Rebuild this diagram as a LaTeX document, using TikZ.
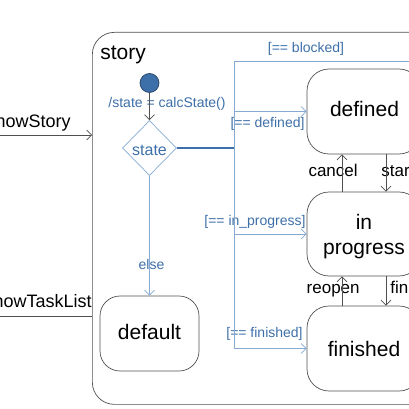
\documentclass[tikz,border=0pt]{standalone}
\usepackage{fontspec}
\setmainfont{Liberation Sans}
\usetikzlibrary{arrows.meta,shapes.geometric,positioning}
\definecolor{guardblue}{HTML}{3D6FA9}
\definecolor{flowblue}{HTML}{86AAD2}
\definecolor{edgegray}{HTML}{505050}
\tikzstyle{block1} = [rectangle, draw=edgegray, rounded corners=22pt, minimum width=114pt, minimum height=85pt, inner sep=0pt]
\tikzstyle{block2} = [diamond, draw=flowblue, minimum width=54pt, minimum height=55pt, inner sep=0pt]
\tikzstyle{block3} = [rectangle, draw=edgegray, rounded corners=22pt, inner sep=0pt]
\tikzstyle{guard} = [text=guardblue, inner sep=0pt, anchor=base, font=\fontsize{14}{16}\selectfont]
\tikzstyle{event} = [inner sep=0pt, anchor=base, font=\fontsize{17}{19}\selectfont]
\tikzstyle{stname} = [inner sep=0pt, anchor=base, font=\fontsize{21}{24}\selectfont]

\begin{document}
\begin{tikzpicture}[x=1pt, y=-1pt, >={Straight Barb[length=5pt,width=10pt]}, line width=0.7pt]
        \useasboundingbox (0,0) rectangle (409,409);
        \clip (0,0) rectangle (409,409);

        \node[block3, anchor=north west, minimum width=440pt, minimum height=372pt] (story) at (92,32) {};
        \node[stname, anchor=base west] (n0) at (100,60) {story};

        \node[circle, draw=guardblue!60!black, fill=guardblue, minimum size=19pt, inner sep=0pt] (init) at (149.5,83) {};
        \node[guard] (g0) at (167,107) {/state = calcState()};
        \node[block2] (dec) at (149.5,148) {};
        \node[guard, font=\fontsize{16}{18}\selectfont] (g1) at (149.5,155) {state};
        \coordinate (j) at (234,148);
        \coordinate (blk) at (430,61);

        \node[block1, minimum height=85pt] (defd) at (364,111.5) {};
        \node[block1, minimum height=84pt] (prog) at (364,234) {};
        \node[block1, minimum height=85pt] (fin) at (364,348.5) {};
        \node[block1, minimum width=99pt, minimum height=75pt, rounded corners=20pt] (dflt) at (149.5,333.5) {};

        \node[stname] (t1) at (364.5,117) {defined};
        \node[stname] (t2) at (364,229) {in};
        \node[stname] (t3) at (364,254) {progress};
        \node[stname] (t4) at (364,356) {finished};
        \node[stname] (t5) at (149.5,339) {default};

        \node[guard] (g2) at (306,53) {[== blocked]};
        \node[guard] (g3) at (267.5,128) {[== defined]};
        \node[guard] (g4) at (255,225) {[== in\_progress]};
        \node[guard] (g5) at (264.5,337) {[== finished]};
        \node[guard] (g6) at (151.5,269) {else};

        \node[event, anchor=base east, font=\fontsize{18}{20}\selectfont] (e1) at (71,127) {showStory};
        \node[event, anchor=base east, font=\fontsize{18}{20}\selectfont] (e2) at (92,307) {showTaskList};
        \node[event, anchor=base east] (e3) at (358,176) {cancel};
        \node[event, anchor=base west] (e4) at (381,176) {start};
        \node[event, anchor=base east] (e5) at (360,293) {reopen};
        \node[event, anchor=base west] (e6) at (390,293) {finish};

        \coordinate (in1) at (-5,135);
        \coordinate (in2) at (-5,316);

        \draw[->, edgegray] (init) -- (dec);
        \draw[guardblue, line width=1.3pt] (dec) -- (j);
        \draw[->, flowblue] (j) |- (blk);
        \draw[->, flowblue] (j) |- (defd);
        \draw[->, flowblue] (j) |- (prog);
        \draw[->, flowblue] (j) |- (fin);
        \draw[->, flowblue] (dec) -- (dflt);
        \draw[->, edgegray] ([xshift=-22pt]prog.north) -- ([xshift=-22pt]defd.south);
        \draw[->, edgegray] ([xshift=22pt]defd.south) -- ([xshift=22pt]prog.north);
        \draw[->, edgegray] ([xshift=-22pt]fin.north) -- ([xshift=-22pt]prog.south);
        \draw[->, edgegray] ([xshift=22pt]prog.south) -- ([xshift=22pt]fin.north);
        \draw[->, edgegray] (in1) -- (in1 -| story.west);
        \draw[edgegray] (in2) -- (in2 -| story.west);
    \end{tikzpicture}
\end{document}
